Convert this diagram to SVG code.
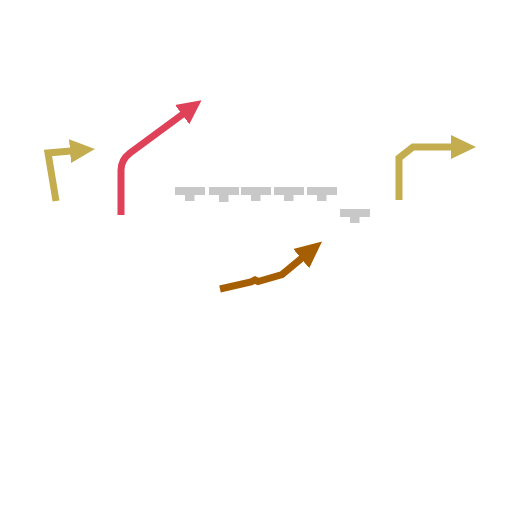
<svg xmlns="http://www.w3.org/2000/svg" width="512" height="512" viewBox="0 0 512 512">
<style>
.blk{fill:#c8c8c8}
.route{fill:none;stroke-linejoin:miter;stroke-linecap:butt}
.gold{stroke:#c4ad4f;stroke-width:7}
.red{stroke:#de4158;stroke-width:7;stroke-linejoin:round}
.brown{stroke:#a65e02;stroke-width:7}
</style>
<defs>
<marker id="ahGold" markerUnits="userSpaceOnUse" markerWidth="26" markerHeight="26" viewBox="0 0 26 24" refX="1" refY="12" orient="auto"><path d="M0,0 L25,12 L0,24 Z" fill="#c4ad4f"/></marker>
<marker id="ahRed" markerUnits="userSpaceOnUse" markerWidth="26" markerHeight="26" viewBox="0 0 26 24" refX="1" refY="12" orient="auto"><path d="M0,0 L24,12 L0,24 Z" fill="#de4158"/></marker>
<marker id="ahBrown" markerUnits="userSpaceOnUse" markerWidth="28" markerHeight="26" viewBox="0 0 28 25" refX="1" refY="12.5" orient="auto"><path d="M0,0 L27,12.5 L0,25 Z" fill="#a65e02"/></marker>
</defs>
<rect width="512" height="512" fill="#ffffff"/>
<g id="blocker1"><rect class="blk" x="175" y="187" width="30" height="8"/><rect class="blk" x="185" y="195" width="9.5" height="6"/></g>
<g id="blocker2"><rect class="blk" x="209" y="187" width="30" height="8"/><rect class="blk" x="219" y="195" width="9.5" height="7"/></g>
<g id="blocker3"><rect class="blk" x="241" y="187" width="30" height="8"/><rect class="blk" x="251" y="195" width="9.5" height="6"/></g>
<g id="blocker4"><rect class="blk" x="274" y="187" width="30" height="8"/><rect class="blk" x="284" y="195" width="9.5" height="6"/></g>
<g id="blocker5"><rect class="blk" x="307" y="187" width="30" height="8"/><rect class="blk" x="317" y="195" width="9.5" height="6"/></g>
<g id="blocker6"><rect class="blk" x="340" y="209" width="30" height="8"/><rect class="blk" x="350" y="217" width="9.5" height="6"/></g>
<g id="connectors">
<path class="route gold" d="M56,201 L48,153 L71,151" marker-end="url(#ahGold)"/>
<path class="route red" d="M121,215 L121,170 Q121,160 130,153 L183,114" marker-end="url(#ahRed)"/>
<path class="route gold" d="M399,200 L399,158 L413,147 L452,147" marker-end="url(#ahGold)"/>
<path class="route brown" d="M220,289 L251,282 L255,280 L258,281.5 L282,274.5 L302,258" marker-end="url(#ahBrown)"/>
</g>
</svg>
